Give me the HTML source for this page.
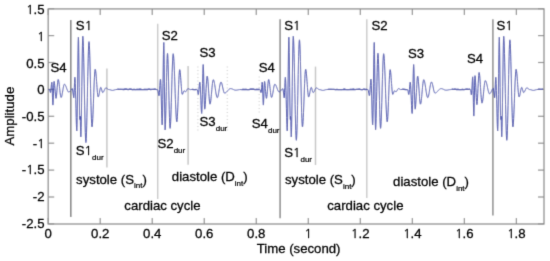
<!DOCTYPE html>
<html><head><meta charset="utf-8"><style>
html,body{margin:0;padding:0;background:#fff;width:550px;height:261px;overflow:hidden}
svg{display:block}
</style></head><body>
<svg width="550" height="261" viewBox="0 0 550 261">
<defs><filter id="bl" filterUnits="userSpaceOnUse" x="0" y="0" width="550" height="261"><feConvolveMatrix order="3" kernelMatrix="0.04000000000000001 0.2 0.04000000000000001 0.2 1 0.2 0.04000000000000001 0.2 0.04000000000000001" preserveAlpha="false"/></filter><filter id="bt" filterUnits="userSpaceOnUse" x="0" y="0" width="550" height="261"><feConvolveMatrix order="3" kernelMatrix="0.0225 0.15 0.0225 0.15 1 0.15 0.0225 0.15 0.0225" preserveAlpha="false"/></filter></defs>
<g filter="url(#bl)">
<rect width="550" height="261" fill="#fff"/>
<line x1="70.8" y1="19.9" x2="70.8" y2="217.0" stroke="#6e6e6e" stroke-width="1.4"/>
<line x1="106.9" y1="68.6" x2="106.9" y2="167.6" stroke="#c2c2c2" stroke-width="1.4"/>
<line x1="157.7" y1="23.8" x2="157.7" y2="199.0" stroke="#c8c8c8" stroke-width="1.4"/>
<line x1="188.1" y1="66.1" x2="188.1" y2="164.7" stroke="#c2c2c2" stroke-width="1.4"/>
<line x1="197.9" y1="66.5" x2="197.9" y2="132.0" stroke="#d0d0d0" stroke-width="1.2" stroke-dasharray="1,2.5"/>
<line x1="227.3" y1="66.5" x2="227.3" y2="132.0" stroke="#d0d0d0" stroke-width="1.2" stroke-dasharray="1,2.5"/>
<line x1="259.2" y1="76.5" x2="259.2" y2="113.5" stroke="#d0d0d0" stroke-width="1.2" stroke-dasharray="1,2.5"/>
<line x1="280.1" y1="19.3" x2="280.1" y2="218.2" stroke="#7c7c7c" stroke-width="1.4"/>
<line x1="315.5" y1="66.6" x2="315.5" y2="165.0" stroke="#c2c2c2" stroke-width="1.4"/>
<line x1="366.8" y1="19.3" x2="366.8" y2="198.0" stroke="#c8c8c8" stroke-width="1.4"/>
<line x1="492.9" y1="19.3" x2="492.9" y2="215.4" stroke="#808080" stroke-width="1.4"/>
<rect x="48.2" y="8.9" width="495.8" height="215.1" fill="none" stroke="#8c8c8c" stroke-width="1.3"/>
<line x1="48.20" y1="224.0" x2="48.20" y2="218.0" stroke="#8c8c8c" stroke-width="1.2"/>
<line x1="48.20" y1="8.9" x2="48.20" y2="14.9" stroke="#8c8c8c" stroke-width="1.2"/>
<line x1="100.22" y1="224.0" x2="100.22" y2="218.0" stroke="#8c8c8c" stroke-width="1.2"/>
<line x1="100.22" y1="8.9" x2="100.22" y2="14.9" stroke="#8c8c8c" stroke-width="1.2"/>
<line x1="152.24" y1="224.0" x2="152.24" y2="218.0" stroke="#8c8c8c" stroke-width="1.2"/>
<line x1="152.24" y1="8.9" x2="152.24" y2="14.9" stroke="#8c8c8c" stroke-width="1.2"/>
<line x1="204.26" y1="224.0" x2="204.26" y2="218.0" stroke="#8c8c8c" stroke-width="1.2"/>
<line x1="204.26" y1="8.9" x2="204.26" y2="14.9" stroke="#8c8c8c" stroke-width="1.2"/>
<line x1="256.28" y1="224.0" x2="256.28" y2="218.0" stroke="#8c8c8c" stroke-width="1.2"/>
<line x1="256.28" y1="8.9" x2="256.28" y2="14.9" stroke="#8c8c8c" stroke-width="1.2"/>
<line x1="308.30" y1="224.0" x2="308.30" y2="218.0" stroke="#8c8c8c" stroke-width="1.2"/>
<line x1="308.30" y1="8.9" x2="308.30" y2="14.9" stroke="#8c8c8c" stroke-width="1.2"/>
<line x1="360.32" y1="224.0" x2="360.32" y2="218.0" stroke="#8c8c8c" stroke-width="1.2"/>
<line x1="360.32" y1="8.9" x2="360.32" y2="14.9" stroke="#8c8c8c" stroke-width="1.2"/>
<line x1="412.34" y1="224.0" x2="412.34" y2="218.0" stroke="#8c8c8c" stroke-width="1.2"/>
<line x1="412.34" y1="8.9" x2="412.34" y2="14.9" stroke="#8c8c8c" stroke-width="1.2"/>
<line x1="464.36" y1="224.0" x2="464.36" y2="218.0" stroke="#8c8c8c" stroke-width="1.2"/>
<line x1="464.36" y1="8.9" x2="464.36" y2="14.9" stroke="#8c8c8c" stroke-width="1.2"/>
<line x1="516.38" y1="224.0" x2="516.38" y2="218.0" stroke="#8c8c8c" stroke-width="1.2"/>
<line x1="516.38" y1="8.9" x2="516.38" y2="14.9" stroke="#8c8c8c" stroke-width="1.2"/>
<line x1="48.2" y1="8.70" x2="54.2" y2="8.70" stroke="#8c8c8c" stroke-width="1.2"/>
<line x1="544.0" y1="8.70" x2="538.0" y2="8.70" stroke="#8c8c8c" stroke-width="1.2"/>
<line x1="48.2" y1="35.60" x2="54.2" y2="35.60" stroke="#8c8c8c" stroke-width="1.2"/>
<line x1="544.0" y1="35.60" x2="538.0" y2="35.60" stroke="#8c8c8c" stroke-width="1.2"/>
<line x1="48.2" y1="62.50" x2="54.2" y2="62.50" stroke="#8c8c8c" stroke-width="1.2"/>
<line x1="544.0" y1="62.50" x2="538.0" y2="62.50" stroke="#8c8c8c" stroke-width="1.2"/>
<line x1="48.2" y1="89.40" x2="54.2" y2="89.40" stroke="#8c8c8c" stroke-width="1.2"/>
<line x1="544.0" y1="89.40" x2="538.0" y2="89.40" stroke="#8c8c8c" stroke-width="1.2"/>
<line x1="48.2" y1="116.30" x2="54.2" y2="116.30" stroke="#8c8c8c" stroke-width="1.2"/>
<line x1="544.0" y1="116.30" x2="538.0" y2="116.30" stroke="#8c8c8c" stroke-width="1.2"/>
<line x1="48.2" y1="143.20" x2="54.2" y2="143.20" stroke="#8c8c8c" stroke-width="1.2"/>
<line x1="544.0" y1="143.20" x2="538.0" y2="143.20" stroke="#8c8c8c" stroke-width="1.2"/>
<line x1="48.2" y1="170.10" x2="54.2" y2="170.10" stroke="#8c8c8c" stroke-width="1.2"/>
<line x1="544.0" y1="170.10" x2="538.0" y2="170.10" stroke="#8c8c8c" stroke-width="1.2"/>
<line x1="48.2" y1="197.00" x2="54.2" y2="197.00" stroke="#8c8c8c" stroke-width="1.2"/>
<line x1="544.0" y1="197.00" x2="538.0" y2="197.00" stroke="#8c8c8c" stroke-width="1.2"/>
<line x1="48.2" y1="223.90" x2="54.2" y2="223.90" stroke="#8c8c8c" stroke-width="1.2"/>
<line x1="544.0" y1="223.90" x2="538.0" y2="223.90" stroke="#8c8c8c" stroke-width="1.2"/>
<path d="M48.20,89.40 L49.60,89.60 L49.83,90.05 L50.05,91.15 L50.27,92.25 L50.50,92.70 L50.72,91.98 L50.93,90.03 L51.15,87.35 L51.37,84.67 L51.58,82.72 L51.80,82.00 L52.02,84.21 L52.24,89.98 L52.46,97.12 L52.68,102.89 L52.90,105.10 L53.10,103.51 L53.30,99.15 L53.50,93.20 L53.70,87.25 L53.90,82.89 L54.10,81.30 L54.31,81.82 L54.52,83.30 L54.73,85.58 L54.94,88.37 L55.16,91.33 L55.37,94.12 L55.58,96.40 L55.79,97.88 L56.00,98.40 L56.20,98.02 L56.40,96.89 L56.60,95.12 L56.80,92.85 L57.00,90.25 L57.20,87.55 L57.40,84.95 L57.60,82.68 L57.80,80.91 L58.00,79.78 L58.20,79.40 L58.41,79.63 L58.61,80.30 L58.82,81.37 L59.03,82.81 L59.24,84.52 L59.44,86.44 L59.65,88.45 L59.86,90.46 L60.06,92.38 L60.27,94.09 L60.48,95.53 L60.69,96.60 L60.89,97.27 L61.10,97.50 L61.31,97.37 L61.51,96.99 L61.72,96.38 L61.93,95.55 L62.13,94.54 L62.34,93.39 L62.54,92.15 L62.75,90.85 L62.96,89.55 L63.16,88.31 L63.37,87.16 L63.58,86.15 L63.78,85.32 L63.99,84.71 L64.19,84.33 L64.40,84.20 L64.60,84.24 L64.81,84.37 L65.01,84.59 L65.22,84.88 L65.42,85.24 L65.63,85.67 L65.83,86.15 L66.04,86.68 L66.24,87.23 L66.45,87.81 L66.65,88.39 L66.86,88.97 L67.06,89.52 L67.27,90.05 L67.47,90.53 L67.68,90.96 L67.88,91.32 L68.09,91.61 L68.29,91.83 L68.50,91.96 L68.70,92.00 L68.91,91.97 L69.12,91.90 L69.33,91.78 L69.54,91.61 L69.76,91.41 L69.97,91.17 L70.18,90.91 L70.39,90.64 L70.60,90.35 L70.81,90.06 L71.02,89.79 L71.23,89.53 L71.44,89.29 L71.66,89.09 L71.87,88.92 L72.08,88.80 L72.29,88.73 L72.50,88.70 L73.70,97.90 L73.90,96.51 L74.10,92.73 L74.30,87.55 L74.50,82.38 L74.70,78.59 L74.90,77.20 L75.11,78.82 L75.32,83.49 L75.53,90.65 L75.74,99.43 L75.96,108.77 L76.17,117.55 L76.38,124.71 L76.59,129.38 L76.80,131.00 L77.00,127.43 L77.20,117.25 L77.40,102.02 L77.60,84.05 L77.80,66.08 L78.00,50.85 L78.20,40.67 L78.40,37.10 L78.61,41.18 L78.81,52.61 L79.02,69.13 L79.23,87.47 L79.44,103.99 L79.64,115.42 L79.85,119.50 L79.97,117.75 L80.10,116.00 L80.33,121.25 L80.57,131.75 L80.80,137.00 L81.00,134.53 L81.20,127.37 L81.40,116.22 L81.60,102.17 L81.80,86.60 L82.00,71.03 L82.20,56.98 L82.40,45.83 L82.60,38.67 L82.80,36.20 L83.01,37.36 L83.21,40.80 L83.42,46.36 L83.63,53.80 L83.83,62.80 L84.04,72.96 L84.25,83.84 L84.45,94.96 L84.66,105.84 L84.87,116.00 L85.07,125.00 L85.28,132.44 L85.49,138.00 L85.69,141.44 L85.90,142.60 L86.11,141.50 L86.31,138.23 L86.52,132.96 L86.73,125.89 L86.93,117.35 L87.14,107.71 L87.35,97.38 L87.55,86.82 L87.76,76.49 L87.97,66.85 L88.17,58.31 L88.38,51.24 L88.59,45.97 L88.79,42.70 L89.00,41.60 L89.20,42.53 L89.40,45.29 L89.60,49.75 L89.80,55.73 L90.00,62.95 L90.20,71.10 L90.40,79.84 L90.60,88.76 L90.80,97.50 L91.00,105.65 L91.20,112.87 L91.40,118.85 L91.60,123.31 L91.80,126.07 L92.00,127.00 L92.20,126.44 L92.40,124.80 L92.60,122.13 L92.80,118.54 L93.00,114.16 L93.20,109.16 L93.40,103.74 L93.60,98.10 L93.80,92.46 L94.00,87.04 L94.20,82.04 L94.40,77.66 L94.60,74.07 L94.80,71.40 L95.00,69.76 L95.20,69.20 L95.40,69.50 L95.60,70.40 L95.80,71.85 L96.00,73.80 L96.20,76.15 L96.40,78.80 L96.60,81.65 L96.80,84.55 L97.00,87.40 L97.20,90.05 L97.40,92.40 L97.60,94.35 L97.80,95.80 L98.00,96.70 L98.20,97.00 L98.42,96.83 L98.63,96.35 L98.85,95.58 L99.07,94.58 L99.28,93.41 L99.50,92.15 L99.72,90.89 L99.93,89.72 L100.15,88.72 L100.37,87.95 L100.58,87.47 L100.80,87.30 L101.01,87.46 L101.22,87.92 L101.43,88.62 L101.64,89.49 L101.86,90.41 L102.07,91.27 L102.28,91.98 L102.49,92.44 L102.70,92.60 L102.90,92.55 L103.10,92.42 L103.30,92.20 L103.50,91.91 L103.70,91.56 L103.90,91.15 L104.10,90.71 L104.30,90.25 L104.50,89.79 L104.70,89.35 L104.90,88.94 L105.10,88.59 L105.30,88.30 L105.50,88.08 L105.70,87.95 L105.90,87.90 L106.11,87.92 L106.31,87.97 L106.52,88.06 L106.73,88.18 L106.93,88.33 L107.14,88.49 L107.35,88.66 L107.55,88.84 L107.76,89.01 L107.97,89.17 L108.17,89.32 L108.38,89.44 L108.59,89.53 L108.79,89.58 L109.00,89.60 L109.21,89.61 L109.41,89.63 L109.62,89.66 L109.82,89.70 L110.03,89.76 L110.24,89.82 L110.44,89.89 L110.65,89.96 L110.85,90.04 L111.06,90.11 L111.26,90.18 L111.47,90.24 L111.68,90.30 L111.88,90.34 L112.09,90.37 L112.29,90.39 L112.50,90.40 L112.71,90.39 L112.91,90.37 L113.12,90.34 L113.32,90.30 L113.53,90.24 L113.74,90.18 L113.94,90.11 L114.15,90.04 L114.35,89.96 L114.56,89.89 L114.76,89.82 L114.97,89.76 L115.18,89.70 L115.38,89.66 L115.59,89.63 L115.79,89.61 L116.00,89.60 L117.50,89.28 L119.00,89.42 L120.50,89.34 L122.00,89.45 L123.50,89.46 L125.00,89.21 L126.50,89.19 L128.00,89.55 L129.50,89.29 L131.00,89.28 L132.50,89.62 L134.00,89.39 L135.50,89.55 L137.00,89.39 L138.50,89.46 L140.00,89.25 L141.50,89.46 L143.00,89.56 L144.50,89.41 L146.00,89.51 L147.50,89.48 L149.00,89.21 L150.50,89.51 L152.00,89.44 L153.50,89.31 L155.00,89.19 L156.50,89.56 L157.50,89.60 L157.71,89.91 L157.93,90.77 L158.14,92.01 L158.36,93.39 L158.57,94.63 L158.79,95.49 L159.00,95.80 L159.21,94.97 L159.43,92.64 L159.64,89.27 L159.86,85.53 L160.07,82.16 L160.29,79.83 L160.50,79.00 L160.71,80.75 L160.93,85.74 L161.14,93.20 L161.35,102.00 L161.56,110.80 L161.77,118.26 L161.99,123.25 L162.20,125.00 L162.40,121.86 L162.60,112.90 L162.80,99.50 L163.00,83.70 L163.20,67.90 L163.40,54.50 L163.60,45.54 L163.80,42.40 L164.02,48.27 L164.23,64.30 L164.45,86.20 L164.67,108.10 L164.88,124.13 L165.10,130.00 L165.30,128.69 L165.50,124.86 L165.70,118.75 L165.90,110.80 L166.10,101.54 L166.30,91.60 L166.50,81.66 L166.70,72.40 L166.90,64.45 L167.10,58.34 L167.30,54.51 L167.50,53.20 L167.72,54.48 L167.93,58.24 L168.15,64.21 L168.37,72.00 L168.58,81.07 L168.80,90.80 L169.02,100.53 L169.23,109.60 L169.45,117.39 L169.67,123.36 L169.88,127.12 L170.10,128.40 L170.31,127.58 L170.51,125.17 L170.72,121.27 L170.93,116.04 L171.13,109.73 L171.34,102.59 L171.55,94.95 L171.75,87.15 L171.96,79.51 L172.17,72.38 L172.37,66.06 L172.58,60.83 L172.79,56.93 L172.99,54.52 L173.20,53.70 L173.40,54.22 L173.60,55.76 L173.80,58.28 L174.00,61.69 L174.20,65.90 L174.40,70.78 L174.60,76.17 L174.80,81.92 L175.00,87.85 L175.20,93.78 L175.40,99.53 L175.60,104.92 L175.80,109.80 L176.00,114.01 L176.20,117.42 L176.40,119.94 L176.60,121.48 L176.80,122.00 L177.01,121.34 L177.21,119.41 L177.42,116.28 L177.63,112.14 L177.84,107.17 L178.04,101.63 L178.25,95.80 L178.46,89.97 L178.66,84.43 L178.87,79.46 L179.08,75.32 L179.29,72.19 L179.49,70.26 L179.70,69.60 L179.90,69.96 L180.10,71.02 L180.30,72.72 L180.50,74.96 L180.70,77.60 L180.90,80.51 L181.10,83.49 L181.30,86.40 L181.50,89.04 L181.70,91.28 L181.90,92.98 L182.10,94.04 L182.30,94.40 L182.51,94.29 L182.72,93.97 L182.93,93.48 L183.14,92.87 L183.36,92.23 L183.57,91.62 L183.78,91.13 L183.99,90.81 L184.20,90.70 L184.42,90.77 L184.63,90.97 L184.85,91.25 L185.07,91.52 L185.28,91.73 L185.50,91.80 L185.71,91.75 L185.92,91.59 L186.12,91.33 L186.33,91.00 L186.54,90.61 L186.75,90.20 L186.96,89.79 L187.17,89.40 L187.38,89.07 L187.58,88.81 L187.79,88.65 L188.00,88.60 L188.21,88.62 L188.42,88.67 L188.62,88.75 L188.83,88.85 L189.04,88.97 L189.25,89.10 L189.46,89.23 L189.67,89.35 L189.88,89.45 L190.08,89.53 L190.29,89.58 L190.50,89.60 L192.00,89.39 L193.50,89.50 L195.00,89.57 L196.50,89.49 L197.20,89.60 L197.42,90.08 L197.64,91.33 L197.86,92.87 L198.08,94.12 L198.30,94.60 L198.51,93.98 L198.73,92.23 L198.94,89.70 L199.16,86.90 L199.37,84.37 L199.59,82.62 L199.80,82.00 L200.01,82.95 L200.22,85.68 L200.43,89.88 L200.64,95.02 L200.86,100.48 L201.07,105.62 L201.28,109.82 L201.49,112.55 L201.70,113.50 L201.91,111.07 L202.13,104.28 L202.34,94.45 L202.56,83.55 L202.77,73.72 L202.99,66.93 L203.20,64.50 L203.41,66.71 L203.63,72.92 L203.84,81.88 L204.06,91.82 L204.27,100.78 L204.49,106.99 L204.70,109.20 L204.91,108.63 L205.12,106.98 L205.32,104.34 L205.53,100.90 L205.74,96.90 L205.95,92.60 L206.16,88.30 L206.37,84.30 L206.57,80.86 L206.78,78.22 L206.99,76.57 L207.20,76.00 L207.40,76.35 L207.60,77.40 L207.80,79.08 L208.00,81.31 L208.20,83.98 L208.40,86.96 L208.60,90.10 L208.80,93.24 L209.00,96.22 L209.20,98.89 L209.40,101.12 L209.60,102.80 L209.80,103.85 L210.00,104.20 L210.21,103.96 L210.41,103.27 L210.62,102.14 L210.82,100.61 L211.03,98.76 L211.24,96.64 L211.44,94.34 L211.65,91.95 L211.86,89.56 L212.06,87.26 L212.27,85.14 L212.48,83.29 L212.68,81.76 L212.89,80.63 L213.09,79.94 L213.30,79.70 L213.50,79.81 L213.70,80.14 L213.90,80.68 L214.10,81.42 L214.30,82.34 L214.50,83.41 L214.70,84.61 L214.90,85.92 L215.10,87.29 L215.30,88.70 L215.50,90.11 L215.70,91.48 L215.90,92.79 L216.10,93.99 L216.30,95.06 L216.50,95.98 L216.70,96.72 L216.90,97.26 L217.10,97.59 L217.30,97.70 L217.51,97.58 L217.71,97.23 L217.92,96.65 L218.12,95.86 L218.33,94.90 L218.53,93.78 L218.74,92.53 L218.94,91.21 L219.15,89.85 L219.36,88.49 L219.56,87.17 L219.77,85.92 L219.97,84.80 L220.18,83.84 L220.38,83.05 L220.59,82.47 L220.79,82.12 L221.00,82.00 L221.21,82.09 L221.41,82.37 L221.62,82.83 L221.82,83.45 L222.03,84.21 L222.24,85.08 L222.44,86.03 L222.65,87.04 L222.85,88.06 L223.06,89.07 L223.26,90.02 L223.47,90.89 L223.68,91.65 L223.88,92.27 L224.09,92.73 L224.29,93.01 L224.50,93.10 L224.70,93.09 L224.91,93.05 L225.11,92.99 L225.31,92.91 L225.52,92.80 L225.72,92.67 L225.92,92.52 L226.13,92.36 L226.33,92.17 L226.53,91.97 L226.74,91.77 L226.94,91.55 L227.14,91.32 L227.35,91.09 L227.55,90.85 L227.75,90.61 L227.96,90.38 L228.16,90.15 L228.36,89.93 L228.57,89.72 L228.77,89.53 L228.97,89.34 L229.18,89.18 L229.38,89.03 L229.58,88.90 L229.79,88.79 L229.99,88.71 L230.19,88.65 L230.40,88.61 L230.60,88.60 L230.80,88.61 L231.01,88.63 L231.21,88.66 L231.42,88.70 L231.62,88.75 L231.82,88.82 L232.03,88.89 L232.23,88.97 L232.44,89.06 L232.64,89.15 L232.84,89.25 L233.05,89.35 L233.25,89.45 L233.46,89.55 L233.66,89.65 L233.86,89.74 L234.07,89.83 L234.27,89.91 L234.48,89.98 L234.68,90.05 L234.88,90.10 L235.09,90.14 L235.29,90.17 L235.50,90.19 L235.70,90.20 L235.90,90.20 L236.11,90.19 L236.31,90.17 L236.52,90.15 L236.72,90.12 L236.93,90.09 L237.13,90.05 L237.34,90.01 L237.54,89.97 L237.75,89.92 L237.95,89.88 L238.16,89.83 L238.36,89.79 L238.57,89.75 L238.77,89.71 L238.98,89.68 L239.18,89.65 L239.39,89.63 L239.59,89.61 L239.80,89.60 L240.00,89.60 L241.50,89.59 L243.00,89.35 L244.50,89.53 L246.00,89.38 L247.50,89.59 L249.00,89.57 L250.50,89.22 L252.00,89.24 L253.50,89.28 L255.00,89.60 L256.50,89.37 L258.00,89.46 L259.50,89.31 L260.05,89.60 L260.27,90.05 L260.50,91.15 L260.73,92.25 L260.95,92.70 L261.17,91.98 L261.38,90.03 L261.60,87.35 L261.82,84.67 L262.03,82.72 L262.25,82.00 L262.47,84.21 L262.69,89.98 L262.91,97.12 L263.13,102.89 L263.35,105.10 L263.55,103.51 L263.75,99.15 L263.95,93.20 L264.15,87.25 L264.35,82.89 L264.55,81.30 L264.76,81.82 L264.97,83.30 L265.18,85.58 L265.39,88.37 L265.61,91.33 L265.82,94.12 L266.03,96.40 L266.24,97.88 L266.45,98.40 L266.67,97.94 L266.89,96.59 L267.11,94.48 L267.33,91.84 L267.55,88.90 L267.77,85.96 L267.99,83.32 L268.21,81.21 L268.43,79.86 L268.65,79.40 L268.86,79.63 L269.06,80.30 L269.27,81.37 L269.48,82.81 L269.69,84.52 L269.89,86.44 L270.10,88.45 L270.31,90.46 L270.51,92.38 L270.72,94.09 L270.93,95.53 L271.14,96.60 L271.34,97.27 L271.55,97.50 L271.76,97.37 L271.96,96.99 L272.17,96.38 L272.38,95.55 L272.58,94.54 L272.79,93.39 L272.99,92.15 L273.20,90.85 L273.41,89.55 L273.61,88.31 L273.82,87.16 L274.03,86.15 L274.23,85.32 L274.44,84.71 L274.64,84.33 L274.85,84.20 L275.05,84.24 L275.26,84.37 L275.46,84.59 L275.67,84.88 L275.87,85.24 L276.08,85.67 L276.28,86.15 L276.49,86.68 L276.69,87.23 L276.90,87.81 L277.10,88.39 L277.31,88.97 L277.51,89.52 L277.72,90.05 L277.92,90.53 L278.13,90.96 L278.33,91.32 L278.54,91.61 L278.74,91.83 L278.95,91.96 L279.15,92.00 L279.35,91.98 L279.55,91.91 L279.75,91.80 L279.95,91.65 L280.15,91.47 L280.35,91.25 L280.55,91.01 L280.75,90.76 L280.95,90.49 L281.15,90.21 L281.35,89.94 L281.55,89.69 L281.75,89.45 L281.95,89.23 L282.15,89.05 L282.35,88.90 L282.55,88.79 L282.75,88.72 L282.95,88.70 L284.15,97.90 L284.35,96.51 L284.55,92.73 L284.75,87.55 L284.95,82.38 L285.15,78.59 L285.35,77.20 L285.56,78.82 L285.77,83.49 L285.98,90.65 L286.19,99.43 L286.41,108.77 L286.62,117.55 L286.83,124.71 L287.04,129.38 L287.25,131.00 L287.45,127.43 L287.65,117.25 L287.85,102.02 L288.05,84.05 L288.25,66.08 L288.45,50.85 L288.65,40.67 L288.85,37.10 L289.06,41.18 L289.26,52.61 L289.47,69.13 L289.68,87.47 L289.89,103.99 L290.09,115.42 L290.30,119.50 L290.42,117.75 L290.55,116.00 L290.78,121.25 L291.02,131.75 L291.25,137.00 L291.45,134.53 L291.65,127.37 L291.85,116.22 L292.05,102.17 L292.25,86.60 L292.45,71.03 L292.65,56.98 L292.85,45.83 L293.05,38.67 L293.25,36.20 L293.46,37.34 L293.66,40.70 L293.87,46.14 L294.08,53.42 L294.28,62.22 L294.49,72.17 L294.70,82.81 L294.90,93.69 L295.11,104.33 L295.32,114.27 L295.52,123.08 L295.73,130.36 L295.94,135.80 L296.14,139.16 L296.35,140.30 L296.56,139.20 L296.76,135.96 L296.97,130.70 L297.18,123.67 L297.38,115.18 L297.59,105.58 L297.80,95.30 L298.00,84.80 L298.21,74.52 L298.42,64.93 L298.62,56.43 L298.83,49.40 L299.04,44.14 L299.24,40.90 L299.45,39.80 L299.65,40.75 L299.85,43.57 L300.05,48.13 L300.25,54.23 L300.45,61.60 L300.65,69.93 L300.85,78.84 L301.05,87.96 L301.25,96.87 L301.45,105.20 L301.65,112.57 L301.85,118.67 L302.05,123.23 L302.25,126.05 L302.45,127.00 L302.66,126.37 L302.88,124.50 L303.09,121.48 L303.30,117.44 L303.52,112.55 L303.73,107.03 L303.94,101.12 L304.16,95.08 L304.37,89.17 L304.58,83.65 L304.80,78.76 L305.01,74.72 L305.22,71.70 L305.44,69.83 L305.65,69.20 L305.85,69.50 L306.05,70.40 L306.25,71.85 L306.45,73.80 L306.65,76.15 L306.85,78.80 L307.05,81.65 L307.25,84.55 L307.45,87.40 L307.65,90.05 L307.85,92.40 L308.05,94.35 L308.25,95.80 L308.45,96.70 L308.65,97.00 L308.85,96.86 L309.05,96.44 L309.25,95.78 L309.45,94.91 L309.65,93.87 L309.85,92.73 L310.05,91.57 L310.25,90.43 L310.45,89.39 L310.65,88.52 L310.85,87.86 L311.05,87.44 L311.25,87.30 L311.46,87.46 L311.67,87.92 L311.88,88.62 L312.09,89.49 L312.31,90.41 L312.52,91.27 L312.73,91.98 L312.94,92.44 L313.15,92.60 L313.35,92.55 L313.55,92.42 L313.75,92.20 L313.95,91.91 L314.15,91.56 L314.35,91.15 L314.55,90.71 L314.75,90.25 L314.95,89.79 L315.15,89.35 L315.35,88.94 L315.55,88.59 L315.75,88.30 L315.95,88.08 L316.15,87.95 L316.35,87.90 L316.56,87.92 L316.76,87.97 L316.97,88.06 L317.18,88.18 L317.38,88.33 L317.59,88.49 L317.80,88.66 L318.00,88.84 L318.21,89.01 L318.42,89.17 L318.62,89.32 L318.83,89.44 L319.04,89.53 L319.24,89.58 L319.45,89.60 L319.66,89.61 L319.86,89.63 L320.07,89.66 L320.27,89.70 L320.48,89.76 L320.69,89.82 L320.89,89.89 L321.10,89.96 L321.30,90.04 L321.51,90.11 L321.71,90.18 L321.92,90.24 L322.13,90.30 L322.33,90.34 L322.54,90.37 L322.74,90.39 L322.95,90.40 L323.16,90.39 L323.36,90.37 L323.57,90.34 L323.77,90.30 L323.98,90.24 L324.19,90.18 L324.39,90.11 L324.60,90.04 L324.80,89.96 L325.01,89.89 L325.21,89.82 L325.42,89.76 L325.63,89.70 L325.83,89.66 L326.04,89.63 L326.24,89.61 L326.45,89.60 L327.95,89.40 L329.45,89.35 L330.95,89.33 L332.45,89.44 L333.95,89.44 L335.45,89.58 L336.95,89.48 L338.45,89.59 L339.95,89.56 L341.45,89.62 L342.95,89.48 L344.45,89.25 L345.95,89.56 L347.45,89.60 L348.95,89.58 L350.45,89.43 L351.95,89.49 L353.45,89.27 L354.95,89.55 L356.45,89.43 L357.95,89.31 L359.45,89.21 L360.95,89.56 L362.45,89.62 L363.95,89.22 L365.45,89.53 L366.95,89.36 L367.95,89.60 L368.16,89.91 L368.38,90.77 L368.59,92.01 L368.81,93.39 L369.02,94.63 L369.24,95.49 L369.45,95.80 L369.66,94.97 L369.88,92.64 L370.09,89.27 L370.31,85.53 L370.52,82.16 L370.74,79.83 L370.95,79.00 L371.16,80.75 L371.38,85.74 L371.59,93.20 L371.80,102.00 L372.01,110.80 L372.22,118.26 L372.44,123.25 L372.65,125.00 L372.85,121.86 L373.05,112.90 L373.25,99.50 L373.45,83.70 L373.65,67.90 L373.85,54.50 L374.05,45.54 L374.25,42.40 L374.47,48.27 L374.68,64.30 L374.90,86.20 L375.12,108.10 L375.33,124.13 L375.55,130.00 L375.75,128.69 L375.95,124.86 L376.15,118.75 L376.35,110.80 L376.55,101.54 L376.75,91.60 L376.95,81.66 L377.15,72.40 L377.35,64.45 L377.55,58.34 L377.75,54.51 L377.95,53.20 L378.17,54.48 L378.38,58.24 L378.60,64.21 L378.82,72.00 L379.03,81.07 L379.25,90.80 L379.47,100.53 L379.68,109.60 L379.90,117.39 L380.12,123.36 L380.33,127.12 L380.55,128.40 L380.76,127.58 L380.96,125.17 L381.17,121.27 L381.38,116.04 L381.58,109.73 L381.79,102.59 L382.00,94.95 L382.20,87.15 L382.41,79.51 L382.62,72.38 L382.82,66.06 L383.03,60.83 L383.24,56.93 L383.44,54.52 L383.65,53.70 L383.85,54.22 L384.05,55.76 L384.25,58.28 L384.45,61.69 L384.65,65.90 L384.85,70.78 L385.05,76.17 L385.25,81.92 L385.45,87.85 L385.65,93.78 L385.85,99.53 L386.05,104.92 L386.25,109.80 L386.45,114.01 L386.65,117.42 L386.85,119.94 L387.05,121.48 L387.25,122.00 L387.46,121.34 L387.66,119.41 L387.87,116.28 L388.08,112.14 L388.29,107.17 L388.49,101.63 L388.70,95.80 L388.91,89.97 L389.11,84.43 L389.32,79.46 L389.53,75.32 L389.74,72.19 L389.94,70.26 L390.15,69.60 L390.35,69.96 L390.55,71.02 L390.75,72.72 L390.95,74.96 L391.15,77.60 L391.35,80.51 L391.55,83.49 L391.75,86.40 L391.95,89.04 L392.15,91.28 L392.35,92.98 L392.55,94.04 L392.75,94.40 L392.96,94.29 L393.17,93.97 L393.38,93.48 L393.59,92.87 L393.81,92.23 L394.02,91.62 L394.23,91.13 L394.44,90.81 L394.65,90.70 L394.87,90.77 L395.08,90.97 L395.30,91.25 L395.52,91.52 L395.73,91.73 L395.95,91.80 L396.16,91.75 L396.37,91.59 L396.57,91.33 L396.78,91.00 L396.99,90.61 L397.20,90.20 L397.41,89.79 L397.62,89.40 L397.82,89.07 L398.03,88.81 L398.24,88.65 L398.45,88.60 L398.66,88.62 L398.87,88.67 L399.07,88.75 L399.28,88.85 L399.49,88.97 L399.70,89.10 L399.91,89.23 L400.12,89.35 L400.32,89.45 L400.53,89.53 L400.74,89.58 L400.95,89.60 L402.45,89.25 L403.95,89.31 L405.45,89.52 L406.95,89.56 L407.65,89.60 L407.87,90.08 L408.09,91.33 L408.31,92.87 L408.53,94.12 L408.75,94.60 L408.96,93.98 L409.18,92.23 L409.39,89.70 L409.61,86.90 L409.82,84.37 L410.04,82.62 L410.25,82.00 L410.46,82.95 L410.67,85.68 L410.88,89.88 L411.09,95.02 L411.31,100.48 L411.52,105.62 L411.73,109.82 L411.94,112.55 L412.15,113.50 L412.36,111.07 L412.58,104.28 L412.79,94.45 L413.01,83.55 L413.22,73.72 L413.44,66.93 L413.65,64.50 L413.86,66.71 L414.08,72.92 L414.29,81.88 L414.51,91.82 L414.72,100.78 L414.94,106.99 L415.15,109.20 L415.36,108.63 L415.57,106.98 L415.77,104.34 L415.98,100.90 L416.19,96.90 L416.40,92.60 L416.61,88.30 L416.82,84.30 L417.02,80.86 L417.23,78.22 L417.44,76.57 L417.65,76.00 L417.85,76.35 L418.05,77.40 L418.25,79.08 L418.45,81.31 L418.65,83.98 L418.85,86.96 L419.05,90.10 L419.25,93.24 L419.45,96.22 L419.65,98.89 L419.85,101.12 L420.05,102.80 L420.25,103.85 L420.45,104.20 L420.66,103.96 L420.86,103.27 L421.07,102.14 L421.27,100.61 L421.48,98.76 L421.69,96.64 L421.89,94.34 L422.10,91.95 L422.31,89.56 L422.51,87.26 L422.72,85.14 L422.93,83.29 L423.13,81.76 L423.34,80.63 L423.54,79.94 L423.75,79.70 L423.95,79.81 L424.15,80.14 L424.35,80.68 L424.55,81.42 L424.75,82.34 L424.95,83.41 L425.15,84.61 L425.35,85.92 L425.55,87.29 L425.75,88.70 L425.95,90.11 L426.15,91.48 L426.35,92.79 L426.55,93.99 L426.75,95.06 L426.95,95.98 L427.15,96.72 L427.35,97.26 L427.55,97.59 L427.75,97.70 L427.96,97.58 L428.16,97.23 L428.37,96.65 L428.57,95.86 L428.78,94.90 L428.98,93.78 L429.19,92.53 L429.39,91.21 L429.60,89.85 L429.81,88.49 L430.01,87.17 L430.22,85.92 L430.42,84.80 L430.63,83.84 L430.83,83.05 L431.04,82.47 L431.24,82.12 L431.45,82.00 L431.66,82.09 L431.86,82.37 L432.07,82.83 L432.27,83.45 L432.48,84.21 L432.69,85.08 L432.89,86.03 L433.10,87.04 L433.30,88.06 L433.51,89.07 L433.71,90.02 L433.92,90.89 L434.13,91.65 L434.33,92.27 L434.54,92.73 L434.74,93.01 L434.95,93.10 L435.15,93.09 L435.36,93.05 L435.56,92.99 L435.76,92.91 L435.97,92.80 L436.17,92.67 L436.37,92.52 L436.58,92.36 L436.78,92.17 L436.98,91.97 L437.19,91.77 L437.39,91.55 L437.59,91.32 L437.80,91.09 L438.00,90.85 L438.20,90.61 L438.41,90.38 L438.61,90.15 L438.81,89.93 L439.02,89.72 L439.22,89.53 L439.42,89.34 L439.63,89.18 L439.83,89.03 L440.03,88.90 L440.24,88.79 L440.44,88.71 L440.64,88.65 L440.85,88.61 L441.05,88.60 L441.25,88.61 L441.46,88.63 L441.66,88.66 L441.87,88.70 L442.07,88.75 L442.27,88.82 L442.48,88.89 L442.68,88.97 L442.89,89.06 L443.09,89.15 L443.29,89.25 L443.50,89.35 L443.70,89.45 L443.91,89.55 L444.11,89.65 L444.31,89.74 L444.52,89.83 L444.72,89.91 L444.93,89.98 L445.13,90.05 L445.33,90.10 L445.54,90.14 L445.74,90.17 L445.95,90.19 L446.15,90.20 L446.35,90.20 L446.56,90.19 L446.76,90.17 L446.97,90.15 L447.17,90.12 L447.38,90.09 L447.58,90.05 L447.79,90.01 L447.99,89.97 L448.20,89.92 L448.40,89.88 L448.61,89.83 L448.81,89.79 L449.02,89.75 L449.22,89.71 L449.43,89.68 L449.63,89.65 L449.84,89.63 L450.04,89.61 L450.25,89.60 L450.45,89.60 L451.95,89.20 L453.45,89.45 L454.95,89.20 L456.45,89.50 L457.95,89.33 L459.45,89.57 L460.95,89.61 L462.45,89.40 L463.95,89.62 L465.45,89.32 L466.95,89.21 L468.45,89.44 L469.95,89.19 L470.50,89.74 L470.73,90.51 L470.95,92.37 L471.17,94.24 L471.40,95.01 L471.62,93.79 L471.83,90.46 L472.05,85.92 L472.27,81.37 L472.48,78.04 L472.70,76.82 L472.92,80.57 L473.14,90.39 L473.36,102.52 L473.58,112.34 L473.80,116.09 L474.00,113.38 L474.20,105.97 L474.40,95.86 L474.60,85.75 L474.80,78.34 L475.00,75.63 L475.21,76.51 L475.42,79.03 L475.63,82.90 L475.84,87.64 L476.06,92.69 L476.27,97.43 L476.48,101.30 L476.69,103.82 L476.90,104.70 L477.12,103.91 L477.34,101.62 L477.56,98.04 L477.78,93.54 L478.00,88.55 L478.22,83.56 L478.44,79.06 L478.66,75.48 L478.88,73.19 L479.10,72.40 L479.31,72.79 L479.51,73.92 L479.72,75.76 L479.93,78.19 L480.14,81.11 L480.34,84.36 L480.55,87.78 L480.76,91.21 L480.96,94.46 L481.17,97.38 L481.38,99.81 L481.59,101.65 L481.79,102.78 L482.00,103.17 L482.21,102.95 L482.41,102.31 L482.62,101.26 L482.82,99.86 L483.03,98.15 L483.24,96.19 L483.44,94.07 L483.65,91.87 L483.86,89.66 L484.06,87.54 L484.27,85.58 L484.47,83.87 L484.68,82.47 L484.89,81.42 L485.09,80.78 L485.30,80.56 L485.50,80.63 L485.71,80.85 L485.91,81.22 L486.12,81.71 L486.32,82.33 L486.53,83.06 L486.73,83.88 L486.94,84.77 L487.14,85.71 L487.35,86.69 L487.55,87.69 L487.76,88.67 L487.96,89.61 L488.17,90.50 L488.37,91.32 L488.58,92.05 L488.78,92.67 L488.99,93.16 L489.19,93.53 L489.40,93.75 L489.60,93.82 L489.80,93.78 L490.00,93.67 L490.20,93.48 L490.40,93.23 L490.60,92.91 L490.80,92.55 L491.00,92.14 L491.20,91.70 L491.40,91.25 L491.60,90.78 L491.80,90.33 L492.00,89.89 L492.20,89.48 L492.40,89.12 L492.60,88.80 L492.80,88.55 L493.00,88.36 L493.20,88.25 L493.40,88.21 L494.60,97.90 L494.84,95.92 L495.08,90.75 L495.32,84.35 L495.56,79.18 L495.80,77.20 L496.01,78.82 L496.22,83.49 L496.43,90.65 L496.64,99.43 L496.86,108.77 L497.07,117.55 L497.28,124.71 L497.49,129.38 L497.70,131.00 L497.93,126.35 L498.16,113.32 L498.39,94.50 L498.61,73.60 L498.84,54.78 L499.07,41.75 L499.30,37.10 L499.51,41.18 L499.71,52.61 L499.92,69.13 L500.13,87.47 L500.34,103.99 L500.54,115.42 L500.75,119.50 L500.88,117.75 L501.00,116.00 L501.23,121.25 L501.47,131.75 L501.70,137.00 L501.90,134.53 L502.10,127.37 L502.30,116.22 L502.50,102.17 L502.70,86.60 L502.90,71.03 L503.10,56.98 L503.30,45.83 L503.50,38.67 L503.70,36.20 L503.91,37.34 L504.11,40.70 L504.32,46.14 L504.53,53.42 L504.73,62.22 L504.94,72.17 L505.15,82.81 L505.35,93.69 L505.56,104.33 L505.77,114.27 L505.97,123.08 L506.18,130.36 L506.39,135.80 L506.59,139.16 L506.80,140.30 L507.01,139.20 L507.21,135.96 L507.42,130.70 L507.63,123.67 L507.83,115.18 L508.04,105.58 L508.25,95.30 L508.45,84.80 L508.66,74.52 L508.87,64.93 L509.07,56.43 L509.28,49.40 L509.49,44.14 L509.69,40.90 L509.90,39.80 L510.10,40.75 L510.30,43.57 L510.50,48.13 L510.70,54.23 L510.90,61.60 L511.10,69.93 L511.30,78.84 L511.50,87.96 L511.70,96.87 L511.90,105.20 L512.10,112.57 L512.30,118.67 L512.50,123.23 L512.70,126.05 L512.90,127.00 L513.10,126.44 L513.30,124.80 L513.50,122.13 L513.70,118.54 L513.90,114.16 L514.10,109.16 L514.30,103.74 L514.50,98.10 L514.70,92.46 L514.90,87.04 L515.10,82.04 L515.30,77.66 L515.50,74.07 L515.70,71.40 L515.90,69.76 L516.10,69.20 L516.30,69.50 L516.50,70.40 L516.70,71.85 L516.90,73.80 L517.10,76.15 L517.30,78.80 L517.50,81.65 L517.70,84.55 L517.90,87.40 L518.10,90.05 L518.30,92.40 L518.50,94.35 L518.70,95.80 L518.90,96.70 L519.10,97.00 L519.32,96.83 L519.53,96.35 L519.75,95.58 L519.97,94.58 L520.18,93.41 L520.40,92.15 L520.62,90.89 L520.83,89.72 L521.05,88.72 L521.27,87.95 L521.48,87.47 L521.70,87.30 L521.91,87.46 L522.12,87.92 L522.33,88.62 L522.54,89.49 L522.76,90.41 L522.97,91.27 L523.18,91.98 L523.39,92.44 L523.60,92.60 L523.81,92.55 L524.03,92.40 L524.24,92.15 L524.45,91.82 L524.67,91.42 L524.88,90.98 L525.09,90.50 L525.31,90.00 L525.52,89.52 L525.73,89.08 L525.95,88.68 L526.16,88.35 L526.37,88.10 L526.59,87.95 L526.80,87.90 L527.01,87.92 L527.21,87.97 L527.42,88.06 L527.63,88.18 L527.83,88.33 L528.04,88.49 L528.25,88.66 L528.45,88.84 L528.66,89.01 L528.87,89.17 L529.07,89.32 L529.28,89.44 L529.49,89.53 L529.69,89.58 L529.90,89.60 L530.11,89.61 L530.31,89.63 L530.52,89.66 L530.72,89.70 L530.93,89.76 L531.14,89.82 L531.34,89.89 L531.55,89.96 L531.75,90.04 L531.96,90.11 L532.16,90.18 L532.37,90.24 L532.58,90.30 L532.78,90.34 L532.99,90.37 L533.19,90.39 L533.40,90.40 L533.61,90.39 L533.81,90.37 L534.02,90.34 L534.22,90.30 L534.43,90.24 L534.64,90.18 L534.84,90.11 L535.05,90.04 L535.25,89.96 L535.46,89.89 L535.66,89.82 L535.87,89.76 L536.08,89.70 L536.28,89.66 L536.49,89.63 L536.69,89.61 L536.90,89.60 L538.40,89.27 L539.90,89.36 L541.40,89.45 L542.90,89.25" fill="none" stroke="#3a44a8" stroke-width="0.95" stroke-linejoin="round"/>
<path d="M117.50,89.28 L119.00,89.42 L120.50,89.34 L122.00,89.45 L123.50,89.46 L125.00,89.21 L126.50,89.19 L128.00,89.55 L129.50,89.29 L131.00,89.28 L132.50,89.62 L134.00,89.39 L135.50,89.55 L137.00,89.39 L138.50,89.46 L140.00,89.25 L141.50,89.46 L143.00,89.56 L144.50,89.41 L146.00,89.51 L147.50,89.48 L149.00,89.21 L150.50,89.51 L152.00,89.44 L153.50,89.31 L155.00,89.19 L156.50,89.56 M192.00,89.39 L193.50,89.50 L195.00,89.57 L196.50,89.49 M241.50,89.59 L243.00,89.35 L244.50,89.53 L246.00,89.38 L247.50,89.59 L249.00,89.57 L250.50,89.22 L252.00,89.24 L253.50,89.28 L255.00,89.60 L256.50,89.37 L258.00,89.46 L259.50,89.31 M327.95,89.40 L329.45,89.35 L330.95,89.33 L332.45,89.44 L333.95,89.44 L335.45,89.58 L336.95,89.48 L338.45,89.59 L339.95,89.56 L341.45,89.62 L342.95,89.48 L344.45,89.25 L345.95,89.56 L347.45,89.60 L348.95,89.58 L350.45,89.43 L351.95,89.49 L353.45,89.27 L354.95,89.55 L356.45,89.43 L357.95,89.31 L359.45,89.21 L360.95,89.56 L362.45,89.62 L363.95,89.22 L365.45,89.53 L366.95,89.36 M402.45,89.25 L403.95,89.31 L405.45,89.52 L406.95,89.56 M451.95,89.20 L453.45,89.45 L454.95,89.20 L456.45,89.50 L457.95,89.33 L459.45,89.57 L460.95,89.61 L462.45,89.40 L463.95,89.62 L465.45,89.32 L466.95,89.21 L468.45,89.44 L469.95,89.19 M538.40,89.27 L539.90,89.36 L541.40,89.45 L542.90,89.25" fill="none" stroke="#3a44a8" stroke-width="1.35" stroke-linejoin="round"/>
</g>
<g filter="url(#bt)" font-family="Liberation Sans, sans-serif" font-size="13.2" fill="#000" stroke="#000" stroke-width="0.28">
<text x="44.6" y="14" text-anchor="end"><tspan font-family="NanumGothic, Liberation Sans, sans-serif" font-size="12.2">1</tspan>.5</text>
<text x="44.6" y="41" text-anchor="end"><tspan font-family="NanumGothic, Liberation Sans, sans-serif" font-size="12.2">1</tspan></text>
<text x="44.6" y="68" text-anchor="end">0.5</text>
<text x="44.6" y="94" text-anchor="end">0</text>
<text x="44.6" y="121" text-anchor="end">-0.5</text>
<text x="44.6" y="148" text-anchor="end">-<tspan font-family="NanumGothic, Liberation Sans, sans-serif" font-size="12.2">1</tspan></text>
<text x="44.6" y="174" text-anchor="end">-<tspan font-family="NanumGothic, Liberation Sans, sans-serif" font-size="12.2">1</tspan>.5</text>
<text x="44.6" y="201" text-anchor="end">-2</text>
<text x="44.6" y="228" text-anchor="end">-2.5</text>
<text x="48.20" y="238" text-anchor="middle">0</text>
<text x="100.22" y="238" text-anchor="middle">0.2</text>
<text x="152.24" y="238" text-anchor="middle">0.4</text>
<text x="204.26" y="238" text-anchor="middle">0.6</text>
<text x="256.28" y="238" text-anchor="middle">0.8</text>
<text x="308.30" y="238" text-anchor="middle"><tspan font-family="NanumGothic, Liberation Sans, sans-serif" font-size="12.2">1</tspan></text>
<text x="360.32" y="238" text-anchor="middle"><tspan font-family="NanumGothic, Liberation Sans, sans-serif" font-size="12.2">1</tspan>.2</text>
<text x="412.34" y="238" text-anchor="middle"><tspan font-family="NanumGothic, Liberation Sans, sans-serif" font-size="12.2">1</tspan>.4</text>
<text x="464.36" y="238" text-anchor="middle"><tspan font-family="NanumGothic, Liberation Sans, sans-serif" font-size="12.2">1</tspan>.6</text>
<text x="516.38" y="238" text-anchor="middle"><tspan font-family="NanumGothic, Liberation Sans, sans-serif" font-size="12.2">1</tspan>.8</text>
<text x="298.6" y="253" text-anchor="middle">Time (second)</text>
<text transform="translate(14.1,116.1) rotate(-90)" text-anchor="middle">Amplitude</text>
<text x="50.55" y="72">S4</text>
<text x="75.85" y="30">S<tspan font-family="NanumGothic, Liberation Sans, sans-serif" font-size="12.2">1</tspan></text>
<text x="75.80" y="155">S<tspan font-family="NanumGothic, Liberation Sans, sans-serif" font-size="12.2">1</tspan><tspan font-size="8" stroke-width="0.22" dy="5">dur</tspan></text>
<text x="76.10" y="184">systole (S<tspan font-size="8" stroke-width="0.22" dy="4">int</tspan><tspan dy="-4">)</tspan></text>
<text x="161.80" y="40">S2</text>
<text x="157.50" y="148">S2<tspan font-size="8" stroke-width="0.22" dy="5">dur</tspan></text>
<text x="199.50" y="57">S3</text>
<text x="199.55" y="126">S3<tspan font-size="8" stroke-width="0.22" dy="4.5">dur</tspan></text>
<text x="171.80" y="181">diastole (D<tspan font-size="8" stroke-width="0.22" dy="5">int</tspan><tspan dy="-5">)</tspan></text>
<text x="124.35" y="210">cardiac cycle</text>
<text x="258.80" y="72">S4</text>
<text x="251.80" y="128">S4<tspan font-size="8" stroke-width="0.22" dy="5">dur</tspan></text>
<text x="284.25" y="30">S<tspan font-family="NanumGothic, Liberation Sans, sans-serif" font-size="12.2">1</tspan></text>
<text x="284.25" y="157">S<tspan font-family="NanumGothic, Liberation Sans, sans-serif" font-size="12.2">1</tspan><tspan font-size="8" stroke-width="0.22" dy="5">dur</tspan></text>
<text x="285.00" y="184">systole (S<tspan font-size="8" stroke-width="0.22" dy="5">int</tspan><tspan dy="-5">)</tspan></text>
<text x="371.50" y="30">S2</text>
<text x="408.05" y="58">S3</text>
<text x="393.10" y="186">diastole (D<tspan font-size="8" stroke-width="0.22" dy="5">int</tspan><tspan dy="-5">)</tspan></text>
<text x="327.25" y="210">cardiac cycle</text>
<text x="467.00" y="63">S4</text>
<text x="496.50" y="30">S<tspan font-family="NanumGothic, Liberation Sans, sans-serif" font-size="12.2">1</tspan></text>
</g>
</svg>
</body></html>
